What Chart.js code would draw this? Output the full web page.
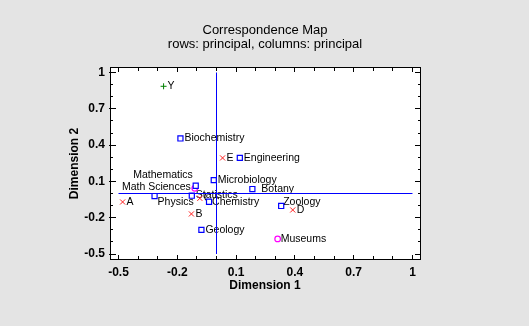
<!DOCTYPE html>
<html>
<head>
<meta charset="utf-8">
<script src="https://cdn.jsdelivr.net/npm/chart.js@4.4.1/dist/chart.umd.min.js"></script>
<style>
  html, body { margin: 0; padding: 0; background: #e4e4e4; }
  #wrap { width: 529px; height: 326px; }
</style>
</head>
<body>
<div id="wrap"><canvas id="mapChart" width="529" height="326"></canvas></div>
<script>
// row points (funding categories)
var rowLabels = ['A', 'B', 'C', 'D', 'E'];
var rowDim1 = [-0.479, -0.128, -0.085, 0.389, 0.031];
var rowDim2 = [-0.070, -0.169, -0.040, -0.136, 0.294];

// column points (disciplines)
var colLabels = ['Geology', 'Biochemistry', 'Chemistry', 'Zoology', 'Physics',
                 'Engineering', 'Microbiology', 'Botany', 'Statistics', 'Mathematics'];
var colDim1 = [-0.077, -0.184, -0.038, 0.330, -0.316, 0.119, -0.014, 0.183, -0.126, -0.106];
var colDim2 = [-0.301, 0.455, -0.068, -0.103, -0.021, 0.294, 0.111, 0.037, -0.018, 0.064];

// supplementary points
var supRowLabels = ['Y'];
var supRowDim1 = [-0.270];
var supRowDim2 = [0.886];
var supColLabels = ['Math Sciences', 'Museums'];
var supColDim1 = [-0.111, 0.312];
var supColDim2 = [0.043, -0.375];

var tickValues = [-0.5, -0.2, 0.1, 0.4, 0.7, 1];

// label nudges so crowded names stay readable
var labelPlace = {
  'Mathematics':   { dx: -3, dy: -11, align: 'right' },
  'Math Sciences': { dx: -4, dy: -1, align: 'right' },
  'Physics':       { dx: 3, dy: 6 },
  'Statistics':    { dx: 4, dy: -1 },
  'Chemistry':     { dx: 3, dy: 0 },
  'Botany':        { dx: 9, dy: 0 },
  'Zoology':       { dx: 2, dy: -4 },
  'Museums':       { dx: 3, dy: 0 }
};

function toPoints(xs, ys) {
  return xs.map(function (x, i) { return { x: x, y: ys[i] }; });
}

Chart.defaults.font.family = "'Liberation Sans', Arial, sans-serif";
Chart.defaults.color = '#000';

var frame = {
  id: 'frame',
  beforeDraw: function (chart) {
    var ctx = chart.ctx, a = chart.chartArea;
    ctx.save();
    ctx.fillStyle = '#e4e4e4';
    ctx.fillRect(0, 0, chart.width, chart.height);
    ctx.fillStyle = '#ffffff';
    ctx.fillRect(a.left, a.top, a.right - a.left, a.bottom - a.top);
    ctx.restore();
  },
  beforeDatasetsDraw: function (chart) {
    // point names
    var ctx = chart.ctx;
    ctx.save();
    ctx.font = "10.5px 'Liberation Sans', Arial, sans-serif";
    ctx.fillStyle = '#000';
    ctx.textBaseline = 'middle';
    chart.data.datasets.forEach(function (ds, di) {
      if (!ds.names) return;
      var meta = chart.getDatasetMeta(di);
      meta.data.forEach(function (pt, i) {
        var name = ds.names[i];
        var p = labelPlace[name] || { dx: 4, dy: 0 };
        ctx.textAlign = p.align || 'left';
        ctx.fillText(name, pt.x + p.dx, pt.y + p.dy);
      });
    });
    ctx.restore();
  },
  afterDraw: function (chart) {
    var ctx = chart.ctx, a = chart.chartArea;
    var xs = chart.scales.x, ys = chart.scales.y;
    ctx.save();
    ctx.strokeStyle = '#000';
    ctx.lineWidth = 1;
    ctx.strokeRect(a.left + 0.5, a.top - 0.5, a.right - a.left, a.bottom - a.top + 1);

    // tick marks every 0.1, longer on the labelled ones
    ctx.beginPath();
    for (var k = -5; k <= 10; k++) {
      var v = k / 10;
      var major = (k + 5) % 3 === 0;
      var px = Math.floor(xs.getPixelForValue(v)) + 0.5;
      var lx = major ? 4 : 3;
      ctx.moveTo(px, a.bottom);
      ctx.lineTo(px, a.bottom - lx);
      ctx.moveTo(px, a.top);
      ctx.lineTo(px, a.top + lx);
      var py = Math.floor(ys.getPixelForValue(v)) + 0.5;
      var ly = major ? 6 : 3;
      ctx.moveTo(a.left - (major ? 1 : 0), py);
      ctx.lineTo(a.left + ly, py);
      ctx.moveTo(a.right + 1, py);
      ctx.lineTo(a.right + 1 - ly, py);
    }
    ctx.stroke();

    // heading
    var cx = (a.left + a.right) / 2;
    ctx.fillStyle = '#000';
    ctx.textAlign = 'center';
    ctx.textBaseline = 'middle';
    ctx.font = "13px 'Liberation Sans', Arial, sans-serif";
    ctx.fillText('Correspondence Map', cx, 30);
    ctx.fillText('rows: principal, columns: principal', cx, 44);
    ctx.restore();
  }
};

var ctx = document.getElementById('mapChart').getContext('2d');
var mapChart = new Chart(ctx, {
  type: 'scatter',
  data: {
    datasets: [
      {
        // horizontal reference line
        type: 'line',
        data: [{ x: -0.5, y: 0 }, { x: 1, y: 0 }],
        borderColor: '#0000ff',
        borderWidth: 1,
        pointRadius: 0,
        fill: false
      },
      {
        // vertical reference line
        type: 'line',
        data: [{ x: 0, y: -0.5 }, { x: 0, y: 1 }],
        borderColor: '#0000ff',
        borderWidth: 1,
        pointRadius: 0,
        fill: false
      },
      {
        names: colLabels,
        data: toPoints(colDim1, colDim2),
        pointStyle: 'rect',
        pointRadius: 3.6,
        borderColor: '#0000ff',
        backgroundColor: '#ffffff',
        borderWidth: 1.2
      },
      {
        names: supColLabels,
        data: toPoints(supColDim1, supColDim2),
        pointStyle: 'circle',
        pointRadius: 2.8,
        borderColor: '#ff00ff',
        backgroundColor: '#ffffff',
        borderWidth: 1.2
      },
      {
        names: rowLabels,
        data: toPoints(rowDim1, rowDim2),
        pointStyle: 'crossRot',
        pointRadius: 3.6,
        borderColor: '#ff2020',
        borderWidth: 1
      },
      {
        names: supRowLabels,
        data: toPoints(supRowDim1, supRowDim2),
        pointStyle: 'cross',
        pointRadius: 3,
        borderColor: '#008000',
        borderWidth: 1
      }
    ]
  },
  options: {
    responsive: false,
    animation: false,
    events: [],
    layout: { padding: { top: 68, right: 109, bottom: 0, left: 0 } },
    plugins: {
      legend: { display: false },
      title: { display: false },
      tooltip: { enabled: false }
    },
    scales: {
      x: {
        type: 'linear',
        min: -0.5434,
        max: 1.0383,
        grid: { display: false, drawTicks: false },
        border: { display: false },
        afterBuildTicks: function (scale) {
          scale.ticks = tickValues.map(function (v) { return { value: v }; });
        },
        afterFit: function (scale) { scale.height = 67; },
        ticks: {
          padding: 6,
          font: { size: 12, weight: 'bold' },
          callback: function (v) { return String(Number(v.toFixed(1))); }
        },
        title: {
          display: true,
          text: 'Dimension 1',
          font: { size: 12, weight: 'bold' },
          padding: { top: 0, bottom: 33 }
        }
      },
      y: {
        type: 'linear',
        min: -0.5413,
        max: 1.0372,
        grid: { display: false, drawTicks: false },
        border: { display: false },
        afterBuildTicks: function (scale) {
          scale.ticks = tickValues.map(function (v) { return { value: v }; });
        },
        afterFit: function (scale) { scale.width = 110; },
        ticks: {
          padding: 5,
          font: { size: 12, weight: 'bold' },
          callback: function (v) { return String(Number(v.toFixed(1))); }
        },
        title: {
          display: true,
          text: 'Dimension 2',
          font: { size: 12, weight: 'bold' },
          padding: { top: 67, bottom: 0 }
        }
      }
    }
  },
  plugins: [frame]
});
</script>
</body>
</html>
